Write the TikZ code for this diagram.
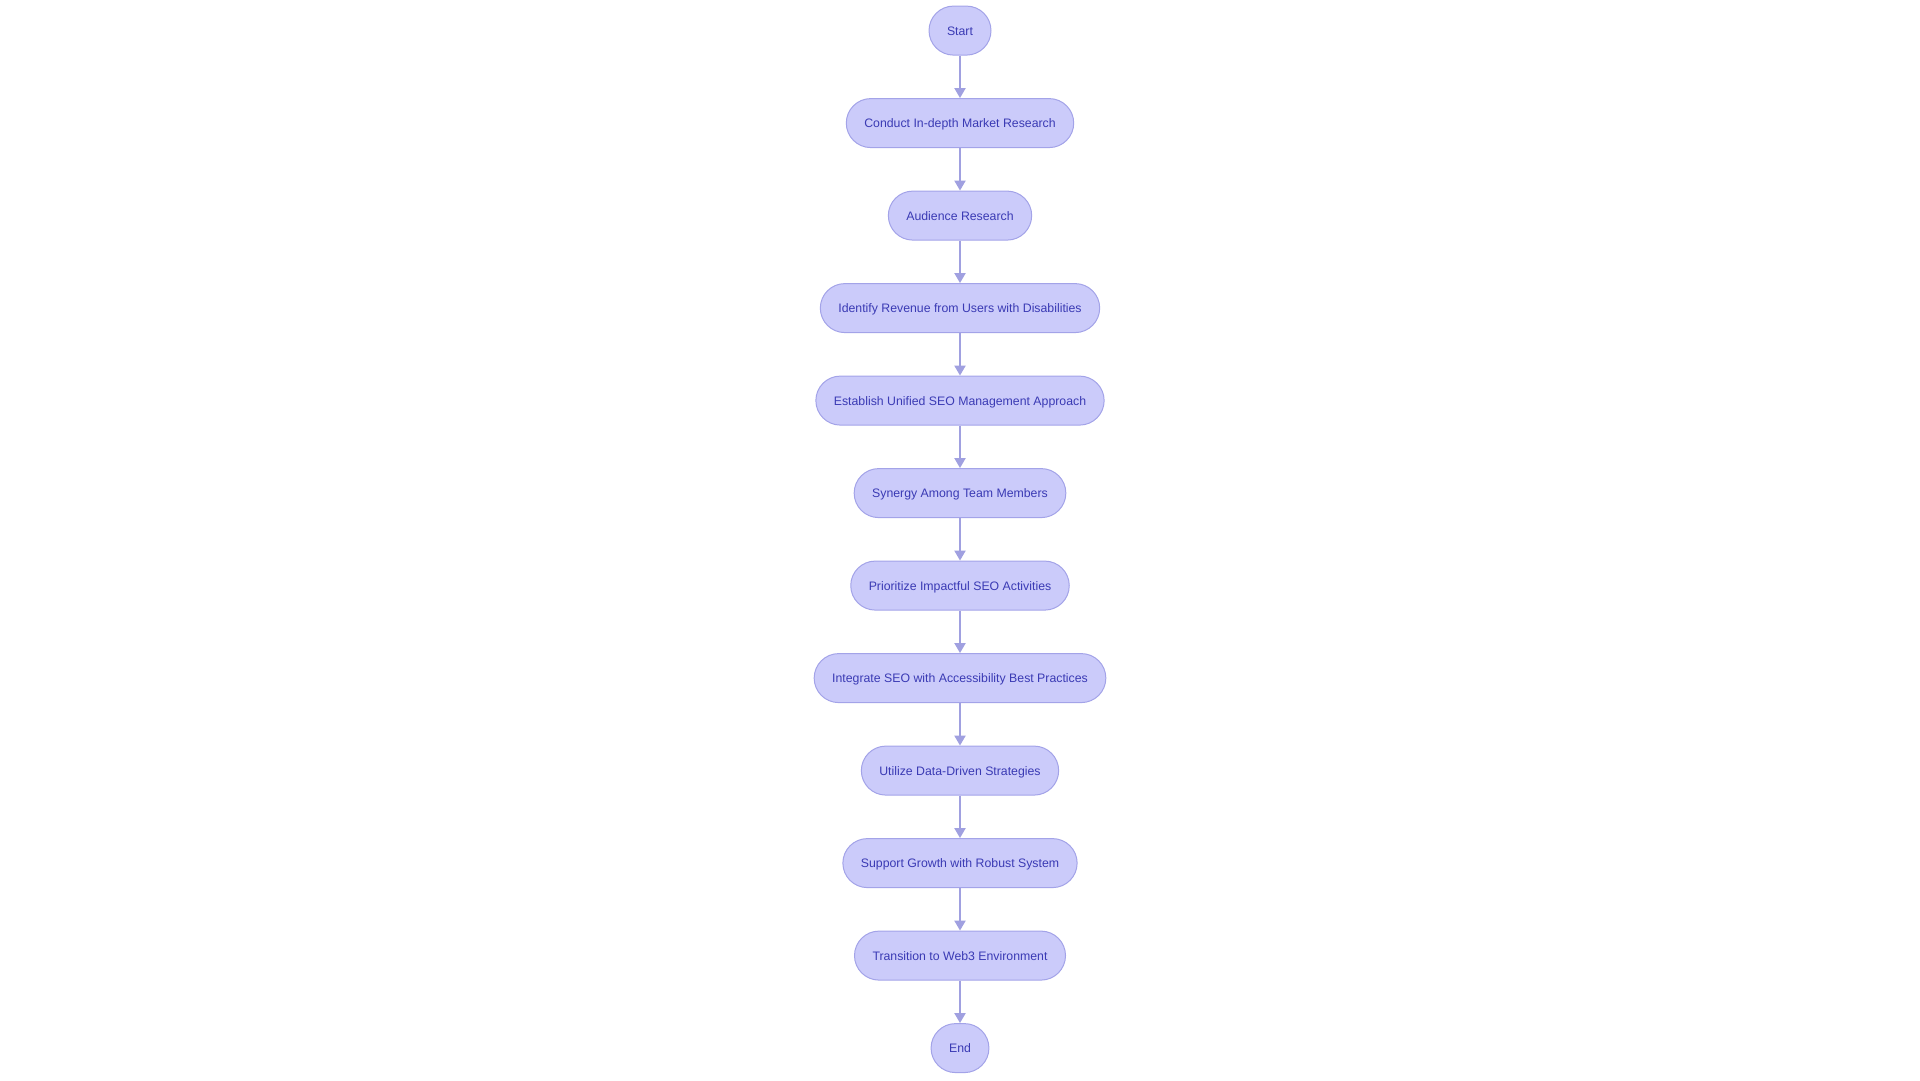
\documentclass[tikz,border=0pt]{standalone}
\usepackage{fontspec}
\setmainfont{Liberation Sans}
\usetikzlibrary{positioning,arrows.meta}

\definecolor{stepfill}{HTML}{CBCBFA}
\definecolor{stepline}{HTML}{A3A3E8}
\definecolor{steptext}{HTML}{3A3AB4}
\definecolor{flowline}{HTML}{A0A0E0}

\tikzset{
  stepbox/.style={draw=stepline, fill=stepfill, line width=1pt,
    rounded corners=24.5pt, minimum height=49pt, inner xsep=18pt,
    text height=10.5pt, text depth=1pt,
    text=steptext, font=\fontsize{12.3pt}{15pt}\selectfont},
  flow/.style={draw=flowline, line width=2pt,
    -{Triangle[length=10pt,width=11pt]}}
}

\begin{document}
\begin{tikzpicture}[x=1pt,y=1pt,node distance=42.5pt]
    % Page frame
    \useasboundingbox (0,0) rectangle (1920,1080);

    % Steps, top to bottom
    \node[stepbox] (start) at (960,1049.4) {Start};
    \node[stepbox, below=of start] (research) {Conduct In-depth Market Research};
    \node[stepbox, below=of research] (audience) {Audience Research};
    \node[stepbox, below=of audience] (revenue) {Identify Revenue from Users with Disabilities};
    \node[stepbox, below=of revenue] (unified) {Establish Unified SEO Management Approach};
    \node[stepbox, below=of unified] (synergy) {Synergy Among Team Members};
    \node[stepbox, below=of synergy] (prioritize) {Prioritize Impactful SEO Activities};
    \node[stepbox, below=of prioritize] (integrate) {Integrate SEO with Accessibility Best Practices};
    \node[stepbox, below=of integrate] (datadriven) {Utilize Data-Driven Strategies};
    \node[stepbox, below=of datadriven] (growth) {Support Growth with Robust System};
    \node[stepbox, below=of growth] (webthree) {Transition to Web3 Environment};
    \node[stepbox, below=of webthree] (end) {End};

    % Arrows between consecutive steps
    \foreach \from/\to in {start/research, research/audience, audience/revenue,
        revenue/unified, unified/synergy, synergy/prioritize, prioritize/integrate,
        integrate/datadriven, datadriven/growth, growth/webthree, webthree/end}
        \draw[flow] (\from) -- (\to);
\end{tikzpicture}
\end{document}
